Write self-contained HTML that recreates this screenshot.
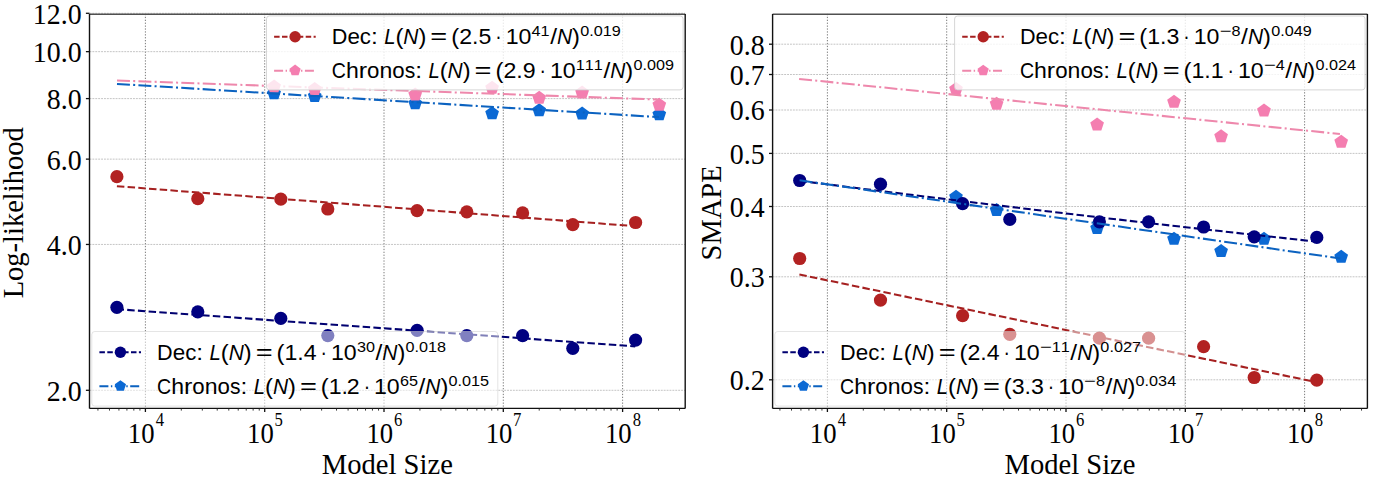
<!DOCTYPE html>
<html><head><meta charset="utf-8"><style>
html,body{margin:0;padding:0;background:#fff;}
body{width:1376px;height:491px;overflow:hidden;}
svg{display:block;}
.ser{font-family:"Liberation Serif",serif;fill:#000;}
.lr{font-family:"Liberation Sans",sans-serif;fill:#000;}
.li{font-family:"Liberation Sans",sans-serif;font-style:italic;fill:#000;}
.gv{stroke:#6c6c6c;stroke-width:0.9;stroke-dasharray:1.3 1.6;}
.gh{stroke:#bdbdbd;stroke-width:0.9;stroke-dasharray:1.9 1.0;}
</style></head><body>
<svg width="1376" height="491" viewBox="0 0 1376 491">
<rect width="1376" height="491" fill="#fff"/>
<line x1="145.40" y1="13.9" x2="145.40" y2="408.4" class="gv"/>
<line x1="264.70" y1="13.9" x2="264.70" y2="408.4" class="gv"/>
<line x1="384.00" y1="13.9" x2="384.00" y2="408.4" class="gv"/>
<line x1="503.30" y1="13.9" x2="503.30" y2="408.4" class="gv"/>
<line x1="622.60" y1="13.9" x2="622.60" y2="408.4" class="gv"/>
<line x1="827.40" y1="13.9" x2="827.40" y2="408.4" class="gv"/>
<line x1="946.70" y1="13.9" x2="946.70" y2="408.4" class="gv"/>
<line x1="1066.00" y1="13.9" x2="1066.00" y2="408.4" class="gv"/>
<line x1="1185.30" y1="13.9" x2="1185.30" y2="408.4" class="gv"/>
<line x1="1304.60" y1="13.9" x2="1304.60" y2="408.4" class="gv"/>
<line x1="89.5" y1="390.30" x2="685.2" y2="390.30" class="gh"/>
<line x1="89.5" y1="244.45" x2="685.2" y2="244.45" class="gh"/>
<line x1="89.5" y1="159.13" x2="685.2" y2="159.13" class="gh"/>
<line x1="89.5" y1="98.60" x2="685.2" y2="98.60" class="gh"/>
<line x1="89.5" y1="51.65" x2="685.2" y2="51.65" class="gh"/>
<line x1="89.5" y1="13.29" x2="685.2" y2="13.29" class="gh"/>
<line x1="772.6" y1="379.80" x2="1367.4" y2="379.80" class="gh"/>
<line x1="772.6" y1="276.80" x2="1367.4" y2="276.80" class="gh"/>
<line x1="772.6" y1="206.50" x2="1367.4" y2="206.50" class="gh"/>
<line x1="772.6" y1="153.40" x2="1367.4" y2="153.40" class="gh"/>
<line x1="772.6" y1="110.00" x2="1367.4" y2="110.00" class="gh"/>
<line x1="772.6" y1="74.50" x2="1367.4" y2="74.50" class="gh"/>
<line x1="772.6" y1="44.20" x2="1367.4" y2="44.20" class="gh"/>
<polygon points="274.10,86.30 280.95,91.28 278.33,99.32 269.87,99.32 267.25,91.28" fill="#0b69d4"/>
<polygon points="314.70,88.90 321.55,93.88 318.93,101.92 310.47,101.92 307.85,93.88" fill="#0b69d4"/>
<polygon points="415.20,96.20 422.05,101.18 419.43,109.22 410.97,109.22 408.35,101.18" fill="#0b69d4"/>
<polygon points="492.10,106.20 498.95,111.18 496.33,119.22 487.87,119.22 485.25,111.18" fill="#0b69d4"/>
<polygon points="539.20,103.30 546.05,108.28 543.43,116.32 534.97,116.32 532.35,108.28" fill="#0b69d4"/>
<polygon points="582.10,106.60 588.95,111.58 586.33,119.62 577.87,119.62 575.25,111.58" fill="#0b69d4"/>
<polygon points="659.30,107.30 666.15,112.28 663.53,120.32 655.07,120.32 652.45,112.28" fill="#0b69d4"/>
<polygon points="274.10,79.60 280.95,84.58 278.33,92.62 269.87,92.62 267.25,84.58" fill="#f47eb0"/>
<polygon points="314.70,81.90 321.55,86.88 318.93,94.92 310.47,94.92 307.85,86.88" fill="#f47eb0"/>
<polygon points="415.20,87.40 422.05,92.38 419.43,100.42 410.97,100.42 408.35,92.38" fill="#f47eb0"/>
<polygon points="492.10,80.80 498.95,85.78 496.33,93.82 487.87,93.82 485.25,85.78" fill="#f47eb0"/>
<polygon points="539.20,90.80 546.05,95.78 543.43,103.82 534.97,103.82 532.35,95.78" fill="#f47eb0"/>
<polygon points="582.10,85.50 588.95,90.48 586.33,98.52 577.87,98.52 575.25,90.48" fill="#f47eb0"/>
<polygon points="659.30,97.80 666.15,102.78 663.53,110.82 655.07,110.82 652.45,102.78" fill="#f47eb0"/>
<line x1="116.5" y1="309.1" x2="635.2" y2="346.4" stroke="#000070" stroke-width="2.05" stroke-dasharray="7.49 3.24"/>
<circle cx="116.89999999999999" cy="307.3" r="6.6" fill="#000080"/>
<circle cx="197.8" cy="311.8" r="6.6" fill="#000080"/>
<circle cx="280.8" cy="318.4" r="6.6" fill="#000080"/>
<circle cx="327.8" cy="335.6" r="6.6" fill="#000080"/>
<circle cx="417.1" cy="330.3" r="6.6" fill="#000080"/>
<circle cx="466.8" cy="335.6" r="6.6" fill="#000080"/>
<circle cx="522.5999999999999" cy="335.6" r="6.6" fill="#000080"/>
<circle cx="572.8" cy="348.3" r="6.6" fill="#000080"/>
<circle cx="635.5999999999999" cy="340.1" r="6.6" fill="#000080"/>
<line x1="116.89999999999999" y1="186.2" x2="635.5" y2="226.2" stroke="#a52020" stroke-width="2.05" stroke-dasharray="7.49 3.24"/>
<circle cx="116.89999999999999" cy="176.7" r="6.6" fill="#b22222"/>
<circle cx="197.8" cy="198.7" r="6.6" fill="#b22222"/>
<circle cx="280.8" cy="199.1" r="6.6" fill="#b22222"/>
<circle cx="327.8" cy="209.0" r="6.6" fill="#b22222"/>
<circle cx="417.1" cy="210.7" r="6.6" fill="#b22222"/>
<circle cx="466.8" cy="211.8" r="6.6" fill="#b22222"/>
<circle cx="522.5999999999999" cy="212.9" r="6.6" fill="#b22222"/>
<circle cx="572.8" cy="224.7" r="6.6" fill="#b22222"/>
<circle cx="635.5999999999999" cy="222.5" r="6.6" fill="#b22222"/>
<line x1="117.0" y1="83.9" x2="659.0" y2="117.1" stroke="#0b62c0" stroke-width="2.05" stroke-dasharray="12.95 3.24 2.02 3.24"/>
<line x1="117.0" y1="80.5" x2="659.0" y2="99.6" stroke="#ee88ac" stroke-width="2.05" stroke-dasharray="12.95 3.24 2.02 3.24"/>
<polygon points="956.00,189.80 962.85,194.78 960.23,202.82 951.77,202.82 949.15,194.78" fill="#0b69d4"/>
<polygon points="996.60,203.00 1003.45,207.98 1000.83,216.02 992.37,216.02 989.75,207.98" fill="#0b69d4"/>
<polygon points="1097.10,221.00 1103.95,225.98 1101.33,234.02 1092.87,234.02 1090.25,225.98" fill="#0b69d4"/>
<polygon points="1174.00,231.70 1180.85,236.68 1178.23,244.72 1169.77,244.72 1167.15,236.68" fill="#0b69d4"/>
<polygon points="1221.10,244.10 1227.95,249.08 1225.33,257.12 1216.87,257.12 1214.25,249.08" fill="#0b69d4"/>
<polygon points="1264.00,231.70 1270.85,236.68 1268.23,244.72 1259.77,244.72 1257.15,236.68" fill="#0b69d4"/>
<polygon points="1341.20,249.80 1348.05,254.78 1345.43,262.82 1336.97,262.82 1334.35,254.78" fill="#0b69d4"/>
<polygon points="956.00,82.00 962.85,86.98 960.23,95.02 951.77,95.02 949.15,86.98" fill="#f47eb0"/>
<polygon points="996.60,96.70 1003.45,101.68 1000.83,109.72 992.37,109.72 989.75,101.68" fill="#f47eb0"/>
<polygon points="1097.10,117.50 1103.95,122.48 1101.33,130.52 1092.87,130.52 1090.25,122.48" fill="#f47eb0"/>
<polygon points="1174.00,94.80 1180.85,99.78 1178.23,107.82 1169.77,107.82 1167.15,99.78" fill="#f47eb0"/>
<polygon points="1221.10,129.30 1227.95,134.28 1225.33,142.32 1216.87,142.32 1214.25,134.28" fill="#f47eb0"/>
<polygon points="1264.00,103.60 1270.85,108.58 1268.23,116.62 1259.77,116.62 1257.15,108.58" fill="#f47eb0"/>
<polygon points="1341.20,134.80 1348.05,139.78 1345.43,147.82 1336.97,147.82 1334.35,139.78" fill="#f47eb0"/>
<path d="M799.60,180.82 Q1058.10,213.83 1316.60,241.62" fill="none" stroke="#000070" stroke-width="2.05" stroke-dasharray="7.49 3.24"/>
<circle cx="799.7" cy="180.5" r="6.6" fill="#000080"/>
<circle cx="880.5" cy="184.2" r="6.6" fill="#000080"/>
<circle cx="962.6" cy="203.6" r="6.6" fill="#000080"/>
<circle cx="1009.8000000000001" cy="219.4" r="6.6" fill="#000080"/>
<circle cx="1099.4" cy="221.79999999999998" r="6.6" fill="#000080"/>
<circle cx="1148.6000000000001" cy="221.79999999999998" r="6.6" fill="#000080"/>
<circle cx="1203.6000000000001" cy="227.0" r="6.6" fill="#000080"/>
<circle cx="1254.2" cy="236.79999999999998" r="6.6" fill="#000080"/>
<circle cx="1316.8" cy="237.4" r="6.6" fill="#000080"/>
<line x1="799.4" y1="274.5" x2="1316.6" y2="382.2" stroke="#a52020" stroke-width="2.05" stroke-dasharray="7.49 3.24"/>
<circle cx="799.7" cy="258.5" r="6.6" fill="#b22222"/>
<circle cx="880.5" cy="300.1" r="6.6" fill="#b22222"/>
<circle cx="962.6" cy="315.70000000000005" r="6.6" fill="#b22222"/>
<circle cx="1009.8000000000001" cy="334.3" r="6.6" fill="#b22222"/>
<circle cx="1099.4" cy="338.20000000000005" r="6.6" fill="#b22222"/>
<circle cx="1148.6000000000001" cy="338.20000000000005" r="6.6" fill="#b22222"/>
<circle cx="1203.6000000000001" cy="346.70000000000005" r="6.6" fill="#b22222"/>
<circle cx="1254.2" cy="377.5" r="6.6" fill="#b22222"/>
<circle cx="1316.8" cy="380.1" r="6.6" fill="#b22222"/>
<line x1="799.6" y1="180.3" x2="1340.3" y2="258.5" stroke="#0b62c0" stroke-width="2.05" stroke-dasharray="12.95 3.24 2.02 3.24"/>
<line x1="799.1" y1="78.9" x2="1339.9" y2="134.0" stroke="#ee88ac" stroke-width="2.05" stroke-dasharray="12.95 3.24 2.02 3.24"/>
<rect x="266.5" y="15.9" width="416.6" height="74.0" rx="3" ry="3" fill="rgba(255,255,255,0.8)" stroke="rgba(204,204,204,0.8)" stroke-width="1"/>
<line x1="274.1" y1="36.7" x2="315.7" y2="36.7" stroke="#a52020" stroke-width="2.0" stroke-dasharray="5.5 2.4"/>
<circle cx="295.1" cy="36.7" r="5.7" fill="#b22222"/>
<text class="lr" transform="translate(331.80,44.10) scale(1.004,1)" font-size="21.50">D</text><text class="lr" transform="translate(347.38,44.10) scale(1.041,1)" font-size="21.50">e</text><text class="lr" transform="translate(359.83,44.10) scale(1.035,1)" font-size="21.50">c</text><text class="lr" transform="translate(370.96,44.10) scale(1.141,1)" font-size="21.50">:</text><text class="li" transform="translate(384.21,44.10) scale(0.943,1)" font-size="21.50">L</text><text class="lr" transform="translate(395.48,44.10) scale(1.103,1)" font-size="21.50">(</text><text class="li" transform="translate(403.37,44.10) scale(0.975,1)" font-size="21.50">N</text><text class="lr" transform="translate(418.51,44.10) scale(1.103,1)" font-size="21.50">)</text><text class="lr" transform="translate(430.35,44.10) scale(1.350,1)" font-size="21.50">=</text><text class="lr" transform="translate(451.24,44.10) scale(1.103,1)" font-size="21.50">(</text><text class="lr" transform="translate(459.14,44.10) scale(1.077,1)" font-size="21.50">2</text><text class="lr" transform="translate(472.01,44.10) scale(1.077,1)" font-size="21.50">.</text><text class="lr" transform="translate(478.44,44.10) scale(1.077,1)" font-size="21.50">5</text><text class="lr" transform="translate(495.26,44.10) scale(0.898,1)" font-size="21.50">·</text><text class="lr" transform="translate(505.63,44.10) scale(1.077,1)" font-size="21.50">1</text><text class="lr" transform="translate(518.51,44.10) scale(1.077,1)" font-size="21.50">0</text><text class="lr" transform="translate(531.58,36.10) scale(1.077,1)" font-size="15.05">4</text><text class="lr" transform="translate(540.59,36.10) scale(1.077,1)" font-size="15.05">1</text><text class="lr" transform="translate(550.15,44.10) scale(1.141,1)" font-size="21.50">/</text><text class="li" transform="translate(556.97,44.10) scale(0.975,1)" font-size="21.50">N</text><text class="lr" transform="translate(572.11,44.10) scale(1.103,1)" font-size="21.50">)</text><text class="lr" transform="translate(580.20,36.10) scale(1.077,1)" font-size="15.05">0</text><text class="lr" transform="translate(589.21,36.10) scale(1.077,1)" font-size="15.05">.</text><text class="lr" transform="translate(593.71,36.10) scale(1.077,1)" font-size="15.05">0</text><text class="lr" transform="translate(602.72,36.10) scale(1.077,1)" font-size="15.05">1</text><text class="lr" transform="translate(611.74,36.10) scale(1.077,1)" font-size="15.05">9</text>
<line x1="274.1" y1="70.7" x2="315.7" y2="70.7" stroke="#ee88ac" stroke-width="2.0" stroke-dasharray="9 2.5 1.4 2.5"/>
<polygon points="295.10,64.60 300.71,68.68 298.57,75.27 291.63,75.27 289.49,68.68" fill="#f47eb0"/>
<text class="lr" transform="translate(331.80,78.30) scale(0.910,1)" font-size="21.50">C</text><text class="lr" transform="translate(345.93,78.30) scale(1.073,1)" font-size="21.50">h</text><text class="lr" transform="translate(358.75,78.30) scale(1.162,1)" font-size="21.50">r</text><text class="lr" transform="translate(367.07,78.30) scale(1.035,1)" font-size="21.50">o</text><text class="lr" transform="translate(379.45,78.30) scale(1.073,1)" font-size="21.50">n</text><text class="lr" transform="translate(392.28,78.30) scale(1.035,1)" font-size="21.50">o</text><text class="lr" transform="translate(404.66,78.30) scale(0.981,1)" font-size="21.50">s</text><text class="lr" transform="translate(415.20,78.30) scale(1.141,1)" font-size="21.50">:</text><text class="li" transform="translate(428.45,78.30) scale(0.943,1)" font-size="21.50">L</text><text class="lr" transform="translate(439.72,78.30) scale(1.103,1)" font-size="21.50">(</text><text class="li" transform="translate(447.62,78.30) scale(0.975,1)" font-size="21.50">N</text><text class="lr" transform="translate(462.75,78.30) scale(1.103,1)" font-size="21.50">)</text><text class="lr" transform="translate(474.59,78.30) scale(1.350,1)" font-size="21.50">=</text><text class="lr" transform="translate(495.49,78.30) scale(1.103,1)" font-size="21.50">(</text><text class="lr" transform="translate(503.38,78.30) scale(1.077,1)" font-size="21.50">2</text><text class="lr" transform="translate(516.26,78.30) scale(1.077,1)" font-size="21.50">.</text><text class="lr" transform="translate(522.69,78.30) scale(1.077,1)" font-size="21.50">9</text><text class="lr" transform="translate(539.51,78.30) scale(0.898,1)" font-size="21.50">·</text><text class="lr" transform="translate(549.88,78.30) scale(1.077,1)" font-size="21.50">1</text><text class="lr" transform="translate(562.75,78.30) scale(1.077,1)" font-size="21.50">0</text><text class="lr" transform="translate(575.82,70.30) scale(1.077,1)" font-size="15.05">1</text><text class="lr" transform="translate(584.83,70.30) scale(1.077,1)" font-size="15.05">1</text><text class="lr" transform="translate(593.84,70.30) scale(1.077,1)" font-size="15.05">1</text><text class="lr" transform="translate(603.41,78.30) scale(1.141,1)" font-size="21.50">/</text><text class="li" transform="translate(610.23,78.30) scale(0.975,1)" font-size="21.50">N</text><text class="lr" transform="translate(625.36,78.30) scale(1.103,1)" font-size="21.50">)</text><text class="lr" transform="translate(633.45,70.30) scale(1.077,1)" font-size="15.05">0</text><text class="lr" transform="translate(642.46,70.30) scale(1.077,1)" font-size="15.05">.</text><text class="lr" transform="translate(646.97,70.30) scale(1.077,1)" font-size="15.05">0</text><text class="lr" transform="translate(655.98,70.30) scale(1.077,1)" font-size="15.05">0</text><text class="lr" transform="translate(664.99,70.30) scale(1.077,1)" font-size="15.05">9</text>
<rect x="91.8" y="331.5" width="406.0" height="74.6" rx="3" ry="3" fill="rgba(255,255,255,0.5)" stroke="rgba(204,204,204,0.5)" stroke-width="1"/>
<line x1="99.39999999999999" y1="352.3" x2="141.0" y2="352.3" stroke="#000070" stroke-width="2.0" stroke-dasharray="5.5 2.4"/>
<circle cx="120.4" cy="352.3" r="5.7" fill="#000080"/>
<text class="lr" transform="translate(157.10,359.70) scale(1.004,1)" font-size="21.50">D</text><text class="lr" transform="translate(172.68,359.70) scale(1.041,1)" font-size="21.50">e</text><text class="lr" transform="translate(185.13,359.70) scale(1.035,1)" font-size="21.50">c</text><text class="lr" transform="translate(196.26,359.70) scale(1.141,1)" font-size="21.50">:</text><text class="li" transform="translate(209.51,359.70) scale(0.943,1)" font-size="21.50">L</text><text class="lr" transform="translate(220.78,359.70) scale(1.103,1)" font-size="21.50">(</text><text class="li" transform="translate(228.67,359.70) scale(0.975,1)" font-size="21.50">N</text><text class="lr" transform="translate(243.81,359.70) scale(1.103,1)" font-size="21.50">)</text><text class="lr" transform="translate(255.65,359.70) scale(1.350,1)" font-size="21.50">=</text><text class="lr" transform="translate(276.54,359.70) scale(1.103,1)" font-size="21.50">(</text><text class="lr" transform="translate(284.44,359.70) scale(1.077,1)" font-size="21.50">1</text><text class="lr" transform="translate(297.31,359.70) scale(1.077,1)" font-size="21.50">.</text><text class="lr" transform="translate(303.74,359.70) scale(1.077,1)" font-size="21.50">4</text><text class="lr" transform="translate(320.56,359.70) scale(0.898,1)" font-size="21.50">·</text><text class="lr" transform="translate(330.93,359.70) scale(1.077,1)" font-size="21.50">1</text><text class="lr" transform="translate(343.81,359.70) scale(1.077,1)" font-size="21.50">0</text><text class="lr" transform="translate(356.88,351.70) scale(1.077,1)" font-size="15.05">3</text><text class="lr" transform="translate(365.89,351.70) scale(1.077,1)" font-size="15.05">0</text><text class="lr" transform="translate(375.45,359.70) scale(1.141,1)" font-size="21.50">/</text><text class="li" transform="translate(382.27,359.70) scale(0.975,1)" font-size="21.50">N</text><text class="lr" transform="translate(397.41,359.70) scale(1.103,1)" font-size="21.50">)</text><text class="lr" transform="translate(405.50,351.70) scale(1.077,1)" font-size="15.05">0</text><text class="lr" transform="translate(414.51,351.70) scale(1.077,1)" font-size="15.05">.</text><text class="lr" transform="translate(419.01,351.70) scale(1.077,1)" font-size="15.05">0</text><text class="lr" transform="translate(428.02,351.70) scale(1.077,1)" font-size="15.05">1</text><text class="lr" transform="translate(437.04,351.70) scale(1.077,1)" font-size="15.05">8</text>
<line x1="99.39999999999999" y1="386.3" x2="141.0" y2="386.3" stroke="#0b62c0" stroke-width="2.0" stroke-dasharray="9 2.5 1.4 2.5"/>
<polygon points="120.40,380.20 126.01,384.28 123.87,390.87 116.93,390.87 114.79,384.28" fill="#0b69d4"/>
<text class="lr" transform="translate(157.10,393.90) scale(0.910,1)" font-size="21.50">C</text><text class="lr" transform="translate(171.23,393.90) scale(1.073,1)" font-size="21.50">h</text><text class="lr" transform="translate(184.05,393.90) scale(1.162,1)" font-size="21.50">r</text><text class="lr" transform="translate(192.37,393.90) scale(1.035,1)" font-size="21.50">o</text><text class="lr" transform="translate(204.75,393.90) scale(1.073,1)" font-size="21.50">n</text><text class="lr" transform="translate(217.58,393.90) scale(1.035,1)" font-size="21.50">o</text><text class="lr" transform="translate(229.96,393.90) scale(0.981,1)" font-size="21.50">s</text><text class="lr" transform="translate(240.50,393.90) scale(1.141,1)" font-size="21.50">:</text><text class="li" transform="translate(253.75,393.90) scale(0.943,1)" font-size="21.50">L</text><text class="lr" transform="translate(265.02,393.90) scale(1.103,1)" font-size="21.50">(</text><text class="li" transform="translate(272.92,393.90) scale(0.975,1)" font-size="21.50">N</text><text class="lr" transform="translate(288.05,393.90) scale(1.103,1)" font-size="21.50">)</text><text class="lr" transform="translate(299.89,393.90) scale(1.350,1)" font-size="21.50">=</text><text class="lr" transform="translate(320.79,393.90) scale(1.103,1)" font-size="21.50">(</text><text class="lr" transform="translate(328.68,393.90) scale(1.077,1)" font-size="21.50">1</text><text class="lr" transform="translate(341.56,393.90) scale(1.077,1)" font-size="21.50">.</text><text class="lr" transform="translate(346.81,393.90) scale(1.077,1)" font-size="21.50">2</text><text class="lr" transform="translate(363.63,393.90) scale(0.898,1)" font-size="21.50">·</text><text class="lr" transform="translate(374.00,393.90) scale(1.077,1)" font-size="21.50">1</text><text class="lr" transform="translate(386.87,393.90) scale(1.077,1)" font-size="21.50">0</text><text class="lr" transform="translate(399.94,385.90) scale(1.077,1)" font-size="15.05">6</text><text class="lr" transform="translate(408.95,385.90) scale(1.077,1)" font-size="15.05">5</text><text class="lr" transform="translate(418.52,393.90) scale(1.141,1)" font-size="21.50">/</text><text class="li" transform="translate(425.34,393.90) scale(0.975,1)" font-size="21.50">N</text><text class="lr" transform="translate(440.47,393.90) scale(1.103,1)" font-size="21.50">)</text><text class="lr" transform="translate(448.56,385.90) scale(1.077,1)" font-size="15.05">0</text><text class="lr" transform="translate(457.57,385.90) scale(1.077,1)" font-size="15.05">.</text><text class="lr" transform="translate(462.08,385.90) scale(1.077,1)" font-size="15.05">0</text><text class="lr" transform="translate(471.09,385.90) scale(1.077,1)" font-size="15.05">1</text><text class="lr" transform="translate(480.10,385.90) scale(1.077,1)" font-size="15.05">5</text>
<rect x="954.6" y="16.0" width="410.5" height="73.9" rx="3" ry="3" fill="rgba(255,255,255,0.8)" stroke="rgba(204,204,204,0.8)" stroke-width="1"/>
<line x1="962.2" y1="36.8" x2="1003.8000000000001" y2="36.8" stroke="#a52020" stroke-width="2.0" stroke-dasharray="5.5 2.4"/>
<circle cx="983.2" cy="36.8" r="5.7" fill="#b22222"/>
<text class="lr" transform="translate(1019.90,44.20) scale(1.004,1)" font-size="21.50">D</text><text class="lr" transform="translate(1035.48,44.20) scale(1.041,1)" font-size="21.50">e</text><text class="lr" transform="translate(1047.93,44.20) scale(1.035,1)" font-size="21.50">c</text><text class="lr" transform="translate(1059.06,44.20) scale(1.141,1)" font-size="21.50">:</text><text class="li" transform="translate(1072.31,44.20) scale(0.943,1)" font-size="21.50">L</text><text class="lr" transform="translate(1083.58,44.20) scale(1.103,1)" font-size="21.50">(</text><text class="li" transform="translate(1091.47,44.20) scale(0.975,1)" font-size="21.50">N</text><text class="lr" transform="translate(1106.61,44.20) scale(1.103,1)" font-size="21.50">)</text><text class="lr" transform="translate(1118.45,44.20) scale(1.350,1)" font-size="21.50">=</text><text class="lr" transform="translate(1139.34,44.20) scale(1.103,1)" font-size="21.50">(</text><text class="lr" transform="translate(1147.24,44.20) scale(1.077,1)" font-size="21.50">1</text><text class="lr" transform="translate(1160.11,44.20) scale(1.077,1)" font-size="21.50">.</text><text class="lr" transform="translate(1166.54,44.20) scale(1.077,1)" font-size="21.50">3</text><text class="lr" transform="translate(1183.36,44.20) scale(0.898,1)" font-size="21.50">·</text><text class="lr" transform="translate(1193.73,44.20) scale(1.077,1)" font-size="21.50">1</text><text class="lr" transform="translate(1206.61,44.20) scale(1.077,1)" font-size="21.50">0</text><text class="lr" transform="translate(1219.68,36.20) scale(1.350,1)" font-size="15.05">−</text><text class="lr" transform="translate(1231.55,36.20) scale(1.077,1)" font-size="15.05">8</text><text class="lr" transform="translate(1241.11,44.20) scale(1.141,1)" font-size="21.50">/</text><text class="li" transform="translate(1247.93,44.20) scale(0.975,1)" font-size="21.50">N</text><text class="lr" transform="translate(1263.07,44.20) scale(1.103,1)" font-size="21.50">)</text><text class="lr" transform="translate(1271.15,36.20) scale(1.077,1)" font-size="15.05">0</text><text class="lr" transform="translate(1280.17,36.20) scale(1.077,1)" font-size="15.05">.</text><text class="lr" transform="translate(1284.67,36.20) scale(1.077,1)" font-size="15.05">0</text><text class="lr" transform="translate(1293.68,36.20) scale(1.077,1)" font-size="15.05">4</text><text class="lr" transform="translate(1302.69,36.20) scale(1.077,1)" font-size="15.05">9</text>
<line x1="962.2" y1="70.8" x2="1003.8000000000001" y2="70.8" stroke="#ee88ac" stroke-width="2.0" stroke-dasharray="9 2.5 1.4 2.5"/>
<polygon points="983.20,64.70 988.81,68.78 986.67,75.37 979.73,75.37 977.59,68.78" fill="#f47eb0"/>
<text class="lr" transform="translate(1019.90,78.40) scale(0.910,1)" font-size="21.50">C</text><text class="lr" transform="translate(1034.03,78.40) scale(1.073,1)" font-size="21.50">h</text><text class="lr" transform="translate(1046.85,78.40) scale(1.162,1)" font-size="21.50">r</text><text class="lr" transform="translate(1055.17,78.40) scale(1.035,1)" font-size="21.50">o</text><text class="lr" transform="translate(1067.55,78.40) scale(1.073,1)" font-size="21.50">n</text><text class="lr" transform="translate(1080.38,78.40) scale(1.035,1)" font-size="21.50">o</text><text class="lr" transform="translate(1092.76,78.40) scale(0.981,1)" font-size="21.50">s</text><text class="lr" transform="translate(1103.30,78.40) scale(1.141,1)" font-size="21.50">:</text><text class="li" transform="translate(1116.55,78.40) scale(0.943,1)" font-size="21.50">L</text><text class="lr" transform="translate(1127.82,78.40) scale(1.103,1)" font-size="21.50">(</text><text class="li" transform="translate(1135.72,78.40) scale(0.975,1)" font-size="21.50">N</text><text class="lr" transform="translate(1150.85,78.40) scale(1.103,1)" font-size="21.50">)</text><text class="lr" transform="translate(1162.69,78.40) scale(1.350,1)" font-size="21.50">=</text><text class="lr" transform="translate(1183.59,78.40) scale(1.103,1)" font-size="21.50">(</text><text class="lr" transform="translate(1191.48,78.40) scale(1.077,1)" font-size="21.50">1</text><text class="lr" transform="translate(1204.36,78.40) scale(1.077,1)" font-size="21.50">.</text><text class="lr" transform="translate(1210.79,78.40) scale(1.077,1)" font-size="21.50">1</text><text class="lr" transform="translate(1227.61,78.40) scale(0.898,1)" font-size="21.50">·</text><text class="lr" transform="translate(1237.98,78.40) scale(1.077,1)" font-size="21.50">1</text><text class="lr" transform="translate(1250.85,78.40) scale(1.077,1)" font-size="21.50">0</text><text class="lr" transform="translate(1263.92,70.40) scale(1.350,1)" font-size="15.05">−</text><text class="lr" transform="translate(1275.79,70.40) scale(1.077,1)" font-size="15.05">4</text><text class="lr" transform="translate(1285.35,78.40) scale(1.141,1)" font-size="21.50">/</text><text class="li" transform="translate(1292.17,78.40) scale(0.975,1)" font-size="21.50">N</text><text class="lr" transform="translate(1307.31,78.40) scale(1.103,1)" font-size="21.50">)</text><text class="lr" transform="translate(1315.40,70.40) scale(1.077,1)" font-size="15.05">0</text><text class="lr" transform="translate(1324.41,70.40) scale(1.077,1)" font-size="15.05">.</text><text class="lr" transform="translate(1328.91,70.40) scale(1.077,1)" font-size="15.05">0</text><text class="lr" transform="translate(1337.92,70.40) scale(1.077,1)" font-size="15.05">2</text><text class="lr" transform="translate(1346.94,70.40) scale(1.077,1)" font-size="15.05">4</text>
<rect x="774.8" y="331.5" width="410.2" height="74.6" rx="3" ry="3" fill="rgba(255,255,255,0.5)" stroke="rgba(204,204,204,0.5)" stroke-width="1"/>
<line x1="782.4" y1="352.3" x2="824.0" y2="352.3" stroke="#000070" stroke-width="2.0" stroke-dasharray="5.5 2.4"/>
<circle cx="803.4" cy="352.3" r="5.7" fill="#000080"/>
<text class="lr" transform="translate(840.10,359.70) scale(1.004,1)" font-size="21.50">D</text><text class="lr" transform="translate(855.68,359.70) scale(1.041,1)" font-size="21.50">e</text><text class="lr" transform="translate(868.13,359.70) scale(1.035,1)" font-size="21.50">c</text><text class="lr" transform="translate(879.26,359.70) scale(1.141,1)" font-size="21.50">:</text><text class="li" transform="translate(892.51,359.70) scale(0.943,1)" font-size="21.50">L</text><text class="lr" transform="translate(903.78,359.70) scale(1.103,1)" font-size="21.50">(</text><text class="li" transform="translate(911.67,359.70) scale(0.975,1)" font-size="21.50">N</text><text class="lr" transform="translate(926.81,359.70) scale(1.103,1)" font-size="21.50">)</text><text class="lr" transform="translate(938.65,359.70) scale(1.350,1)" font-size="21.50">=</text><text class="lr" transform="translate(959.54,359.70) scale(1.103,1)" font-size="21.50">(</text><text class="lr" transform="translate(967.44,359.70) scale(1.077,1)" font-size="21.50">2</text><text class="lr" transform="translate(980.31,359.70) scale(1.077,1)" font-size="21.50">.</text><text class="lr" transform="translate(986.74,359.70) scale(1.077,1)" font-size="21.50">4</text><text class="lr" transform="translate(1003.56,359.70) scale(0.898,1)" font-size="21.50">·</text><text class="lr" transform="translate(1013.93,359.70) scale(1.077,1)" font-size="21.50">1</text><text class="lr" transform="translate(1026.81,359.70) scale(1.077,1)" font-size="21.50">0</text><text class="lr" transform="translate(1039.88,351.70) scale(1.350,1)" font-size="15.05">−</text><text class="lr" transform="translate(1051.75,351.70) scale(1.077,1)" font-size="15.05">1</text><text class="lr" transform="translate(1060.76,351.70) scale(1.077,1)" font-size="15.05">1</text><text class="lr" transform="translate(1070.32,359.70) scale(1.141,1)" font-size="21.50">/</text><text class="li" transform="translate(1077.14,359.70) scale(0.975,1)" font-size="21.50">N</text><text class="lr" transform="translate(1092.28,359.70) scale(1.103,1)" font-size="21.50">)</text><text class="lr" transform="translate(1100.37,351.70) scale(1.077,1)" font-size="15.05">0</text><text class="lr" transform="translate(1109.38,351.70) scale(1.077,1)" font-size="15.05">.</text><text class="lr" transform="translate(1113.88,351.70) scale(1.077,1)" font-size="15.05">0</text><text class="lr" transform="translate(1122.89,351.70) scale(1.077,1)" font-size="15.05">2</text><text class="lr" transform="translate(1131.90,351.70) scale(1.077,1)" font-size="15.05">7</text>
<line x1="782.4" y1="386.3" x2="824.0" y2="386.3" stroke="#0b62c0" stroke-width="2.0" stroke-dasharray="9 2.5 1.4 2.5"/>
<polygon points="803.40,380.20 809.01,384.28 806.87,390.87 799.93,390.87 797.79,384.28" fill="#0b69d4"/>
<text class="lr" transform="translate(840.10,393.90) scale(0.910,1)" font-size="21.50">C</text><text class="lr" transform="translate(854.23,393.90) scale(1.073,1)" font-size="21.50">h</text><text class="lr" transform="translate(867.05,393.90) scale(1.162,1)" font-size="21.50">r</text><text class="lr" transform="translate(875.37,393.90) scale(1.035,1)" font-size="21.50">o</text><text class="lr" transform="translate(887.75,393.90) scale(1.073,1)" font-size="21.50">n</text><text class="lr" transform="translate(900.58,393.90) scale(1.035,1)" font-size="21.50">o</text><text class="lr" transform="translate(912.96,393.90) scale(0.981,1)" font-size="21.50">s</text><text class="lr" transform="translate(923.50,393.90) scale(1.141,1)" font-size="21.50">:</text><text class="li" transform="translate(936.75,393.90) scale(0.943,1)" font-size="21.50">L</text><text class="lr" transform="translate(948.02,393.90) scale(1.103,1)" font-size="21.50">(</text><text class="li" transform="translate(955.92,393.90) scale(0.975,1)" font-size="21.50">N</text><text class="lr" transform="translate(971.05,393.90) scale(1.103,1)" font-size="21.50">)</text><text class="lr" transform="translate(982.89,393.90) scale(1.350,1)" font-size="21.50">=</text><text class="lr" transform="translate(1003.79,393.90) scale(1.103,1)" font-size="21.50">(</text><text class="lr" transform="translate(1011.68,393.90) scale(1.077,1)" font-size="21.50">3</text><text class="lr" transform="translate(1024.56,393.90) scale(1.077,1)" font-size="21.50">.</text><text class="lr" transform="translate(1030.99,393.90) scale(1.077,1)" font-size="21.50">3</text><text class="lr" transform="translate(1047.81,393.90) scale(0.898,1)" font-size="21.50">·</text><text class="lr" transform="translate(1058.18,393.90) scale(1.077,1)" font-size="21.50">1</text><text class="lr" transform="translate(1071.05,393.90) scale(1.077,1)" font-size="21.50">0</text><text class="lr" transform="translate(1084.12,385.90) scale(1.350,1)" font-size="15.05">−</text><text class="lr" transform="translate(1095.99,385.90) scale(1.077,1)" font-size="15.05">8</text><text class="lr" transform="translate(1105.55,393.90) scale(1.141,1)" font-size="21.50">/</text><text class="li" transform="translate(1112.37,393.90) scale(0.975,1)" font-size="21.50">N</text><text class="lr" transform="translate(1127.51,393.90) scale(1.103,1)" font-size="21.50">)</text><text class="lr" transform="translate(1135.60,385.90) scale(1.077,1)" font-size="15.05">0</text><text class="lr" transform="translate(1144.61,385.90) scale(1.077,1)" font-size="15.05">.</text><text class="lr" transform="translate(1149.11,385.90) scale(1.077,1)" font-size="15.05">0</text><text class="lr" transform="translate(1158.12,385.90) scale(1.077,1)" font-size="15.05">3</text><text class="lr" transform="translate(1167.14,385.90) scale(1.077,1)" font-size="15.05">4</text>
<line x1="89.5" y1="14.2" x2="685.2" y2="14.2" stroke="#505050" stroke-width="1.5"/>
<line x1="89.5" y1="408.4" x2="685.2" y2="408.4" stroke="#111" stroke-width="1.4"/>
<line x1="89.5" y1="13.9" x2="89.5" y2="408.4" stroke="#111" stroke-width="1.4"/>
<line x1="685.2" y1="13.9" x2="685.2" y2="408.4" stroke="#111" stroke-width="1.4"/>
<line x1="97.93" y1="408.4" x2="97.93" y2="410.59999999999997" stroke="#222" stroke-width="0.9"/>
<line x1="109.49" y1="408.4" x2="109.49" y2="410.59999999999997" stroke="#222" stroke-width="0.9"/>
<line x1="118.93" y1="408.4" x2="118.93" y2="410.59999999999997" stroke="#222" stroke-width="0.9"/>
<line x1="126.92" y1="408.4" x2="126.92" y2="410.59999999999997" stroke="#222" stroke-width="0.9"/>
<line x1="133.84" y1="408.4" x2="133.84" y2="410.59999999999997" stroke="#222" stroke-width="0.9"/>
<line x1="139.94" y1="408.4" x2="139.94" y2="410.59999999999997" stroke="#222" stroke-width="0.9"/>
<line x1="145.40" y1="408.4" x2="145.40" y2="412.0" stroke="#111" stroke-width="1.3"/>
<line x1="181.31" y1="408.4" x2="181.31" y2="410.59999999999997" stroke="#222" stroke-width="0.9"/>
<line x1="202.32" y1="408.4" x2="202.32" y2="410.59999999999997" stroke="#222" stroke-width="0.9"/>
<line x1="217.23" y1="408.4" x2="217.23" y2="410.59999999999997" stroke="#222" stroke-width="0.9"/>
<line x1="228.79" y1="408.4" x2="228.79" y2="410.59999999999997" stroke="#222" stroke-width="0.9"/>
<line x1="238.23" y1="408.4" x2="238.23" y2="410.59999999999997" stroke="#222" stroke-width="0.9"/>
<line x1="246.22" y1="408.4" x2="246.22" y2="410.59999999999997" stroke="#222" stroke-width="0.9"/>
<line x1="253.14" y1="408.4" x2="253.14" y2="410.59999999999997" stroke="#222" stroke-width="0.9"/>
<line x1="259.24" y1="408.4" x2="259.24" y2="410.59999999999997" stroke="#222" stroke-width="0.9"/>
<line x1="264.70" y1="408.4" x2="264.70" y2="412.0" stroke="#111" stroke-width="1.3"/>
<line x1="300.61" y1="408.4" x2="300.61" y2="410.59999999999997" stroke="#222" stroke-width="0.9"/>
<line x1="321.62" y1="408.4" x2="321.62" y2="410.59999999999997" stroke="#222" stroke-width="0.9"/>
<line x1="336.53" y1="408.4" x2="336.53" y2="410.59999999999997" stroke="#222" stroke-width="0.9"/>
<line x1="348.09" y1="408.4" x2="348.09" y2="410.59999999999997" stroke="#222" stroke-width="0.9"/>
<line x1="357.53" y1="408.4" x2="357.53" y2="410.59999999999997" stroke="#222" stroke-width="0.9"/>
<line x1="365.52" y1="408.4" x2="365.52" y2="410.59999999999997" stroke="#222" stroke-width="0.9"/>
<line x1="372.44" y1="408.4" x2="372.44" y2="410.59999999999997" stroke="#222" stroke-width="0.9"/>
<line x1="378.54" y1="408.4" x2="378.54" y2="410.59999999999997" stroke="#222" stroke-width="0.9"/>
<line x1="384.00" y1="408.4" x2="384.00" y2="412.0" stroke="#111" stroke-width="1.3"/>
<line x1="419.91" y1="408.4" x2="419.91" y2="410.59999999999997" stroke="#222" stroke-width="0.9"/>
<line x1="440.92" y1="408.4" x2="440.92" y2="410.59999999999997" stroke="#222" stroke-width="0.9"/>
<line x1="455.83" y1="408.4" x2="455.83" y2="410.59999999999997" stroke="#222" stroke-width="0.9"/>
<line x1="467.39" y1="408.4" x2="467.39" y2="410.59999999999997" stroke="#222" stroke-width="0.9"/>
<line x1="476.83" y1="408.4" x2="476.83" y2="410.59999999999997" stroke="#222" stroke-width="0.9"/>
<line x1="484.82" y1="408.4" x2="484.82" y2="410.59999999999997" stroke="#222" stroke-width="0.9"/>
<line x1="491.74" y1="408.4" x2="491.74" y2="410.59999999999997" stroke="#222" stroke-width="0.9"/>
<line x1="497.84" y1="408.4" x2="497.84" y2="410.59999999999997" stroke="#222" stroke-width="0.9"/>
<line x1="503.30" y1="408.4" x2="503.30" y2="412.0" stroke="#111" stroke-width="1.3"/>
<line x1="539.21" y1="408.4" x2="539.21" y2="410.59999999999997" stroke="#222" stroke-width="0.9"/>
<line x1="560.22" y1="408.4" x2="560.22" y2="410.59999999999997" stroke="#222" stroke-width="0.9"/>
<line x1="575.13" y1="408.4" x2="575.13" y2="410.59999999999997" stroke="#222" stroke-width="0.9"/>
<line x1="586.69" y1="408.4" x2="586.69" y2="410.59999999999997" stroke="#222" stroke-width="0.9"/>
<line x1="596.13" y1="408.4" x2="596.13" y2="410.59999999999997" stroke="#222" stroke-width="0.9"/>
<line x1="604.12" y1="408.4" x2="604.12" y2="410.59999999999997" stroke="#222" stroke-width="0.9"/>
<line x1="611.04" y1="408.4" x2="611.04" y2="410.59999999999997" stroke="#222" stroke-width="0.9"/>
<line x1="617.14" y1="408.4" x2="617.14" y2="410.59999999999997" stroke="#222" stroke-width="0.9"/>
<line x1="622.60" y1="408.4" x2="622.60" y2="412.0" stroke="#111" stroke-width="1.3"/>
<line x1="658.51" y1="408.4" x2="658.51" y2="410.59999999999997" stroke="#222" stroke-width="0.9"/>
<line x1="679.52" y1="408.4" x2="679.52" y2="410.59999999999997" stroke="#222" stroke-width="0.9"/>
<text class="ser" transform="translate(127.80,443.3) scale(0.89,1)" font-size="30">10</text>
<text class="ser" transform="translate(155.87,426.2) scale(0.86,1)" font-size="19.4">4</text>
<text class="ser" transform="translate(247.10,443.3) scale(0.89,1)" font-size="30">10</text>
<text class="ser" transform="translate(274.53,426.2) scale(0.86,1)" font-size="19.4">5</text>
<text class="ser" transform="translate(366.40,443.3) scale(0.89,1)" font-size="30">10</text>
<text class="ser" transform="translate(394.08,426.2) scale(0.86,1)" font-size="19.4">6</text>
<text class="ser" transform="translate(485.70,443.3) scale(0.89,1)" font-size="30">10</text>
<text class="ser" transform="translate(513.00,426.2) scale(0.86,1)" font-size="19.4">7</text>
<text class="ser" transform="translate(605.00,443.3) scale(0.89,1)" font-size="30">10</text>
<text class="ser" transform="translate(632.76,426.2) scale(0.86,1)" font-size="19.4">8</text>
<text class="ser" x="387.35" y="473.8" font-size="28.6" text-anchor="middle">Model Size</text>
<line x1="772.6" y1="14.2" x2="1367.4" y2="14.2" stroke="#505050" stroke-width="1.5"/>
<line x1="772.6" y1="408.4" x2="1367.4" y2="408.4" stroke="#111" stroke-width="1.4"/>
<line x1="772.6" y1="13.9" x2="772.6" y2="408.4" stroke="#111" stroke-width="1.4"/>
<line x1="1367.4" y1="13.9" x2="1367.4" y2="408.4" stroke="#111" stroke-width="1.4"/>
<line x1="779.93" y1="408.4" x2="779.93" y2="410.59999999999997" stroke="#222" stroke-width="0.9"/>
<line x1="791.49" y1="408.4" x2="791.49" y2="410.59999999999997" stroke="#222" stroke-width="0.9"/>
<line x1="800.93" y1="408.4" x2="800.93" y2="410.59999999999997" stroke="#222" stroke-width="0.9"/>
<line x1="808.92" y1="408.4" x2="808.92" y2="410.59999999999997" stroke="#222" stroke-width="0.9"/>
<line x1="815.84" y1="408.4" x2="815.84" y2="410.59999999999997" stroke="#222" stroke-width="0.9"/>
<line x1="821.94" y1="408.4" x2="821.94" y2="410.59999999999997" stroke="#222" stroke-width="0.9"/>
<line x1="827.40" y1="408.4" x2="827.40" y2="412.0" stroke="#111" stroke-width="1.3"/>
<line x1="863.31" y1="408.4" x2="863.31" y2="410.59999999999997" stroke="#222" stroke-width="0.9"/>
<line x1="884.32" y1="408.4" x2="884.32" y2="410.59999999999997" stroke="#222" stroke-width="0.9"/>
<line x1="899.23" y1="408.4" x2="899.23" y2="410.59999999999997" stroke="#222" stroke-width="0.9"/>
<line x1="910.79" y1="408.4" x2="910.79" y2="410.59999999999997" stroke="#222" stroke-width="0.9"/>
<line x1="920.23" y1="408.4" x2="920.23" y2="410.59999999999997" stroke="#222" stroke-width="0.9"/>
<line x1="928.22" y1="408.4" x2="928.22" y2="410.59999999999997" stroke="#222" stroke-width="0.9"/>
<line x1="935.14" y1="408.4" x2="935.14" y2="410.59999999999997" stroke="#222" stroke-width="0.9"/>
<line x1="941.24" y1="408.4" x2="941.24" y2="410.59999999999997" stroke="#222" stroke-width="0.9"/>
<line x1="946.70" y1="408.4" x2="946.70" y2="412.0" stroke="#111" stroke-width="1.3"/>
<line x1="982.61" y1="408.4" x2="982.61" y2="410.59999999999997" stroke="#222" stroke-width="0.9"/>
<line x1="1003.62" y1="408.4" x2="1003.62" y2="410.59999999999997" stroke="#222" stroke-width="0.9"/>
<line x1="1018.53" y1="408.4" x2="1018.53" y2="410.59999999999997" stroke="#222" stroke-width="0.9"/>
<line x1="1030.09" y1="408.4" x2="1030.09" y2="410.59999999999997" stroke="#222" stroke-width="0.9"/>
<line x1="1039.53" y1="408.4" x2="1039.53" y2="410.59999999999997" stroke="#222" stroke-width="0.9"/>
<line x1="1047.52" y1="408.4" x2="1047.52" y2="410.59999999999997" stroke="#222" stroke-width="0.9"/>
<line x1="1054.44" y1="408.4" x2="1054.44" y2="410.59999999999997" stroke="#222" stroke-width="0.9"/>
<line x1="1060.54" y1="408.4" x2="1060.54" y2="410.59999999999997" stroke="#222" stroke-width="0.9"/>
<line x1="1066.00" y1="408.4" x2="1066.00" y2="412.0" stroke="#111" stroke-width="1.3"/>
<line x1="1101.91" y1="408.4" x2="1101.91" y2="410.59999999999997" stroke="#222" stroke-width="0.9"/>
<line x1="1122.92" y1="408.4" x2="1122.92" y2="410.59999999999997" stroke="#222" stroke-width="0.9"/>
<line x1="1137.83" y1="408.4" x2="1137.83" y2="410.59999999999997" stroke="#222" stroke-width="0.9"/>
<line x1="1149.39" y1="408.4" x2="1149.39" y2="410.59999999999997" stroke="#222" stroke-width="0.9"/>
<line x1="1158.83" y1="408.4" x2="1158.83" y2="410.59999999999997" stroke="#222" stroke-width="0.9"/>
<line x1="1166.82" y1="408.4" x2="1166.82" y2="410.59999999999997" stroke="#222" stroke-width="0.9"/>
<line x1="1173.74" y1="408.4" x2="1173.74" y2="410.59999999999997" stroke="#222" stroke-width="0.9"/>
<line x1="1179.84" y1="408.4" x2="1179.84" y2="410.59999999999997" stroke="#222" stroke-width="0.9"/>
<line x1="1185.30" y1="408.4" x2="1185.30" y2="412.0" stroke="#111" stroke-width="1.3"/>
<line x1="1221.21" y1="408.4" x2="1221.21" y2="410.59999999999997" stroke="#222" stroke-width="0.9"/>
<line x1="1242.22" y1="408.4" x2="1242.22" y2="410.59999999999997" stroke="#222" stroke-width="0.9"/>
<line x1="1257.13" y1="408.4" x2="1257.13" y2="410.59999999999997" stroke="#222" stroke-width="0.9"/>
<line x1="1268.69" y1="408.4" x2="1268.69" y2="410.59999999999997" stroke="#222" stroke-width="0.9"/>
<line x1="1278.13" y1="408.4" x2="1278.13" y2="410.59999999999997" stroke="#222" stroke-width="0.9"/>
<line x1="1286.12" y1="408.4" x2="1286.12" y2="410.59999999999997" stroke="#222" stroke-width="0.9"/>
<line x1="1293.04" y1="408.4" x2="1293.04" y2="410.59999999999997" stroke="#222" stroke-width="0.9"/>
<line x1="1299.14" y1="408.4" x2="1299.14" y2="410.59999999999997" stroke="#222" stroke-width="0.9"/>
<line x1="1304.60" y1="408.4" x2="1304.60" y2="412.0" stroke="#111" stroke-width="1.3"/>
<line x1="1340.51" y1="408.4" x2="1340.51" y2="410.59999999999997" stroke="#222" stroke-width="0.9"/>
<line x1="1361.52" y1="408.4" x2="1361.52" y2="410.59999999999997" stroke="#222" stroke-width="0.9"/>
<text class="ser" transform="translate(809.80,443.3) scale(0.89,1)" font-size="30">10</text>
<text class="ser" transform="translate(837.87,426.2) scale(0.86,1)" font-size="19.4">4</text>
<text class="ser" transform="translate(929.10,443.3) scale(0.89,1)" font-size="30">10</text>
<text class="ser" transform="translate(956.53,426.2) scale(0.86,1)" font-size="19.4">5</text>
<text class="ser" transform="translate(1048.40,443.3) scale(0.89,1)" font-size="30">10</text>
<text class="ser" transform="translate(1076.08,426.2) scale(0.86,1)" font-size="19.4">6</text>
<text class="ser" transform="translate(1167.70,443.3) scale(0.89,1)" font-size="30">10</text>
<text class="ser" transform="translate(1195.00,426.2) scale(0.86,1)" font-size="19.4">7</text>
<text class="ser" transform="translate(1287.00,443.3) scale(0.89,1)" font-size="30">10</text>
<text class="ser" transform="translate(1314.76,426.2) scale(0.86,1)" font-size="19.4">8</text>
<text class="ser" x="1070.00" y="473.8" font-size="28.6" text-anchor="middle">Model Size</text>
<line x1="85.9" y1="390.30" x2="89.5" y2="390.30" stroke="#111" stroke-width="1.3"/>
<text class="ser" transform="translate(81.60,400.70) scale(0.93,1)" font-size="30" text-anchor="end">2.0</text>
<line x1="85.9" y1="244.45" x2="89.5" y2="244.45" stroke="#111" stroke-width="1.3"/>
<text class="ser" transform="translate(81.60,254.85) scale(0.93,1)" font-size="30" text-anchor="end">4.0</text>
<line x1="85.9" y1="159.13" x2="89.5" y2="159.13" stroke="#111" stroke-width="1.3"/>
<text class="ser" transform="translate(81.60,169.53) scale(0.93,1)" font-size="30" text-anchor="end">6.0</text>
<line x1="85.9" y1="98.60" x2="89.5" y2="98.60" stroke="#111" stroke-width="1.3"/>
<text class="ser" transform="translate(81.60,109.00) scale(0.93,1)" font-size="30" text-anchor="end">8.0</text>
<line x1="85.9" y1="51.65" x2="89.5" y2="51.65" stroke="#111" stroke-width="1.3"/>
<text class="ser" transform="translate(81.60,62.05) scale(0.93,1)" font-size="30" text-anchor="end">10.0</text>
<line x1="85.9" y1="13.29" x2="89.5" y2="13.29" stroke="#111" stroke-width="1.3"/>
<text class="ser" transform="translate(81.60,23.69) scale(0.93,1)" font-size="30" text-anchor="end">12.0</text>
<line x1="769.0" y1="379.80" x2="772.6" y2="379.80" stroke="#111" stroke-width="1.3"/>
<text class="ser" transform="translate(764.70,390.20) scale(0.93,1)" font-size="30" text-anchor="end">0.2</text>
<line x1="769.0" y1="276.80" x2="772.6" y2="276.80" stroke="#111" stroke-width="1.3"/>
<text class="ser" transform="translate(764.70,287.20) scale(0.93,1)" font-size="30" text-anchor="end">0.3</text>
<line x1="769.0" y1="206.50" x2="772.6" y2="206.50" stroke="#111" stroke-width="1.3"/>
<text class="ser" transform="translate(764.70,216.90) scale(0.93,1)" font-size="30" text-anchor="end">0.4</text>
<line x1="769.0" y1="153.40" x2="772.6" y2="153.40" stroke="#111" stroke-width="1.3"/>
<text class="ser" transform="translate(764.70,163.80) scale(0.93,1)" font-size="30" text-anchor="end">0.5</text>
<line x1="769.0" y1="110.00" x2="772.6" y2="110.00" stroke="#111" stroke-width="1.3"/>
<text class="ser" transform="translate(764.70,120.40) scale(0.93,1)" font-size="30" text-anchor="end">0.6</text>
<line x1="769.0" y1="74.50" x2="772.6" y2="74.50" stroke="#111" stroke-width="1.3"/>
<text class="ser" transform="translate(764.70,84.90) scale(0.93,1)" font-size="30" text-anchor="end">0.7</text>
<line x1="769.0" y1="44.20" x2="772.6" y2="44.20" stroke="#111" stroke-width="1.3"/>
<text class="ser" transform="translate(764.70,54.60) scale(0.93,1)" font-size="30" text-anchor="end">0.8</text>
<text class="ser" transform="translate(22.8,212.8) rotate(-90)" font-size="28.5" text-anchor="middle">Log-likelihood</text>
<text class="ser" transform="translate(720.5,212.9) rotate(-90)" font-size="28.5" text-anchor="middle">SMAPE</text>
</svg></body></html>
